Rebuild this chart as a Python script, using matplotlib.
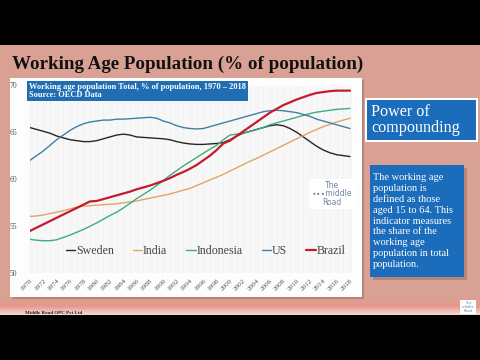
import numpy as np
import matplotlib
matplotlib.use("Agg")
import matplotlib.pyplot as plt
from matplotlib.patches import Rectangle

years = list(range(1970, 2019))
sweden = [65.5, 65.3, 65.1, 64.9, 64.6, 64.4, 64.2, 64.1, 64.0, 64.0,
          64.1, 64.3, 64.5, 64.7, 64.8, 64.7, 64.5, 64.45, 64.4, 64.35,
          64.3, 64.2, 64.0, 63.85, 63.75, 63.7, 63.7, 63.75, 63.8, 63.9,
          64.2, 64.6, 64.9, 65.1, 65.3, 65.5, 65.7, 65.8, 65.7, 65.4,
          65.0, 64.5, 64.0, 63.5, 63.1, 62.8, 62.6, 62.5, 62.4]
india = [56.0, 56.05, 56.15, 56.3, 56.45, 56.6, 56.8, 57.0, 57.1, 57.15,
         57.2, 57.25, 57.3, 57.35, 57.45, 57.55, 57.65, 57.8, 57.95, 58.1,
         58.25, 58.4, 58.6, 58.8, 59.0, 59.3, 59.6, 59.9, 60.2, 60.5,
         60.85, 61.2, 61.55, 61.9, 62.2, 62.55, 62.9, 63.25, 63.6, 63.95,
         64.3, 64.65, 65.0, 65.3, 65.6, 65.85, 66.1, 66.3, 66.5]
indonesia = [53.55, 53.45, 53.4, 53.4, 53.5, 53.75, 54.0, 54.3, 54.6, 54.95,
             55.3, 55.7, 56.1, 56.45, 56.9, 57.4, 57.9, 58.35, 58.8, 59.3,
             59.85, 60.4, 60.9, 61.4, 61.85, 62.3, 62.75, 63.2, 63.6, 64.2,
             64.7, 64.8, 64.9, 65.1, 65.3, 65.5, 65.8, 66.0, 66.2, 66.4,
             66.6, 66.8, 67.0, 67.15, 67.25, 67.35, 67.45, 67.5, 67.55]
us = [62.0, 62.5, 63.0, 63.6, 64.2, 64.7, 65.2, 65.6, 65.9, 66.1,
      66.2, 66.3, 66.3, 66.4, 66.4, 66.45, 66.5, 66.55, 66.6, 66.5,
      66.2, 66.0, 65.7, 65.5, 65.4, 65.35, 65.4, 65.6, 65.8, 66.0,
      66.2, 66.4, 66.6, 66.8, 67.0, 67.2, 67.3, 67.35, 67.3, 67.2,
      67.1, 66.9, 66.7, 66.4, 66.2, 66.0, 65.8, 65.6, 65.4]
brazil = [54.45, 54.8, 55.15, 55.5, 55.85, 56.2, 56.55, 56.9, 57.25, 57.6,
          57.65, 57.85, 58.05, 58.25, 58.45, 58.65, 58.9, 59.1, 59.3, 59.55,
          59.8, 60.1, 60.45, 60.75, 61.1, 61.5, 62.0, 62.5, 63.1, 63.8,
          64.1, 64.6, 65.1, 65.6, 66.1, 66.6, 67.1, 67.5, 67.9, 68.2,
          68.5, 68.75, 69.0, 69.2, 69.3, 69.4, 69.45, 69.45, 69.45]
series_names = ["Sweden", "India", "Indonesia", "US", "Brazil"]
series_vals = [sweden, india, indonesia, us, brazil]
colors = ["#262626", "#e2a566", "#3bae7c", "#3f7fa6", "#c41c2c"]
widths = [1.0, 1.0, 1.0, 1.0, 1.6]
xtick_labels = [str(y) for y in range(1970, 2019, 2)]
yticks = [50, 55, 60, 65, 70]

W, H = 480, 360
fig = plt.figure(figsize=(4.8, 3.6), dpi=100)
fig.patch.set_facecolor("#d9a193")

def fx(x): return x / W
def fy(y): return 1 - y / H

def rect(x0, y0, x1, y1, **kw):
    r = Rectangle((fx(x0), fy(y1)), fx(x1) - fx(x0), fy(y0) - fy(y1),
                  transform=fig.transFigure, **kw)
    fig.add_artist(r)
    return r

# black bars
rect(0, 0, 480, 45, facecolor="black", edgecolor="none", zorder=0)
# bottom gradient strip
gax = fig.add_axes([0, fy(315), 1, fy(298) - fy(315)])
grad = np.linspace(0, 1, 50)
cols = np.array([[217, 161, 147], [230, 152, 142], [246, 218, 212]]) / 255
img = np.zeros((50, 2, 3))
for i, t in enumerate(grad):
    if t < 0.5:
        c = cols[0] + (cols[1] - cols[0]) * t * 2
    else:
        c = cols[1] + (cols[2] - cols[1]) * (t - 0.5) * 2
    img[i, :, :] = c
gax.imshow(img, aspect="auto", extent=[0, 1, 0, 1], origin="upper")
gax.axis("off")
rect(0, 315, 480, 360, facecolor="black", edgecolor="none", zorder=5)

# title
fig.text(fx(12), fy(64), "Working Age Population (% of population)",
         fontsize=13.7, fontweight="bold", family="Liberation Serif",
         color="#111111", va="center", ha="left")

# chart panel
rect(12, 80, 364, 299, facecolor="#b98478", edgecolor="none", zorder=0.5)
rect(10, 78, 362, 297, facecolor="#fdfdfd", edgecolor="none", zorder=1)

ax = fig.add_axes([fx(30), fy(272.5), fx(352) - fx(30), fy(85.5) - fy(272.5)])
ax.set_facecolor("#f7f7f7")
ax.set_zorder(2)
for name, vals, c, lw in zip(series_names, series_vals, colors, widths):
    ax.plot(years, vals, color=c, lw=lw, label=name, solid_capstyle="round")
ax.set_xlim(1970, 2018.3)
ax.set_ylim(50, 70)
ax.set_yticks(yticks)
ax.set_yticklabels([str(v) for v in yticks], fontsize=5.5, color="#555555",
                   family="Liberation Serif")
ax.set_xticks(range(1970, 2019, 2))
ax.set_xticklabels(xtick_labels, rotation=45, ha="right", rotation_mode="anchor",
                   fontsize=5.2, color="#555555", family="Liberation Serif")
ax.set_xticks(years, minor=True)
ax.tick_params(axis="both", which="both", length=0)
ax.tick_params(axis="y", pad=9)
ax.tick_params(axis="x", pad=4)
ax.grid(True, axis="x", which="both", color="#efefef", lw=0.5)
ax.set_axisbelow(True)
for s in ax.spines.values():
    s.set_visible(False)

leg = ax.legend(loc="center", bbox_to_anchor=(0.545, 0.115), ncol=5, frameon=False,
                handlelength=0.8, handletextpad=0.05, columnspacing=1.6,
                prop={"family": "Liberation Serif", "size": 8.6})
for t in leg.get_texts():
    t.set_color("#444444")

# header box inside chart
fig.text(fx(29), fy(91), "Working age population Total, % of population, 1970 \u2013 2018\nSource: OECD Data",
         fontsize=6.05, fontweight="bold", family="Liberation Serif", color="white",
         ha="left", va="center", linespacing=1.1, zorder=10,
         bbox=dict(boxstyle="square,pad=0.25", facecolor="#1f6db3", edgecolor="none"))

# watermark
fig.text(fx(332), fy(194), "The\n\u2219\u2219\u2219middle\nRoad", fontsize=5.5,
         family="DejaVu Sans", color="#6d86a8", ha="center", va="center",
         linespacing=0.95, zorder=10,
         bbox=dict(boxstyle="square,pad=0.3", facecolor="white", edgecolor="none"))

# right boxes
rect(365, 98, 478, 142, facecolor="white", edgecolor="none", zorder=3)
rect(367, 100, 476, 140, facecolor="#1c6cbc", edgecolor="none", zorder=4)
fig.text(fx(371), fy(120), "Power of\ncompounding", fontsize=11.6,
         family="Liberation Serif", color="white", ha="left", va="center",
         linespacing=1.05, zorder=6)

rect(373, 168, 467, 280, facecolor="#b98478", edgecolor="none", zorder=3)
rect(370, 165, 464, 277, facecolor="#1c6cbc", edgecolor="none", zorder=4)
fig.text(fx(373), fy(221),
         "The working age\npopulation is\ndefined as those\naged 15 to 64. This\nindicator measures\nthe share of the\nworking age\npopulation in total\npopulation.",
         fontsize=7.5, family="Liberation Serif", color="white", ha="left",
         va="center", linespacing=1.28, zorder=6)

# footer
fig.text(fx(25), fy(313), "Middle Road OPC Pvt Ltd", fontsize=3.6,
         fontweight="bold", family="Liberation Serif", color="#222222",
         ha="left", va="center", zorder=6)
fig.text(fx(468), fy(307), "The\nmiddle\nRoad", fontsize=2.6, family="DejaVu Sans",
         color="#6d86a8", ha="center", va="center", linespacing=0.9, zorder=6,
         bbox=dict(boxstyle="square,pad=0.4", facecolor="white", edgecolor="none"))

fig.savefig("out.png", dpi=100, facecolor=fig.get_facecolor())
